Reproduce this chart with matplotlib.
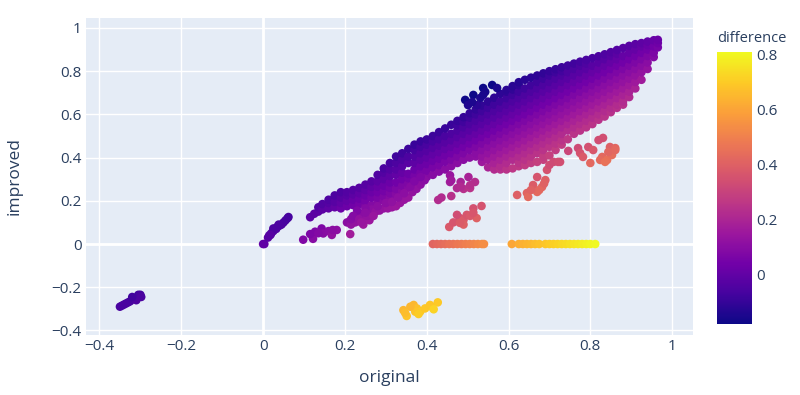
import numpy as np
import matplotlib
matplotlib.use("Agg")
import matplotlib.pyplot as plt
from matplotlib.colors import LinearSegmentedColormap

# main body (original: improved values)
main_x = [.40, .415, .43, .445, .46, .475, .49, .505, .52, .535, .55, .565, .58, .595, .61, .625, .64, .655, .67, .685,
          .70, .715, .73, .745, .76, .775, .79, .805, .82, .835, .85, .865, .88, .895, .91, .925, .94, .955, .965]
main_y = [
    [.31, .34, .37, .40, .43, .46, .484],
    [.32, .355, .385, .415, .445, .475, .50],
    [.335, .365, .395, .425, .455, .485, .518],
    [.345, .38, .41, .44, .47, .50, .535],
    [.36, .39, .42, .45, .48, .51, .552],
    [.375, .405, .435, .465, .495, .525, .55, .57],
    [.39, .42, .45, .48, .51, .54, .565, .587],
    [.40, .435, .465, .495, .525, .555, .585, .605],
    [.405, .42, .45, .48, .51, .54, .57, .60, .623],
    [.38, .405, .435, .465, .495, .525, .555, .585, .615, .641],
    [.355, .39, .42, .45, .48, .51, .54, .57, .60, .63, .659],
    [.345, .375, .405, .435, .465, .495, .525, .555, .585, .615, .645, .677],
    [.345, .36, .39, .42, .45, .48, .51, .54, .57, .60, .63, .66, .695],
    [.345, .375, .405, .435, .465, .495, .525, .555, .585, .615, .645, .675, .705, .713],
    [.35, .39, .42, .45, .48, .51, .54, .57, .60, .63, .66, .69, .715, .731],
    [.36, .375, .405, .435, .465, .495, .525, .555, .585, .615, .645, .675, .705, .735, .749],
    [.365, .39, .42, .45, .48, .51, .54, .57, .60, .63, .66, .69, .72, .76],
    [.375, .405, .435, .465, .495, .525, .555, .585, .615, .645, .675, .705, .735, .77],
    [.38, .42, .45, .48, .51, .54, .57, .60, .63, .66, .69, .72, .75, .78],
    [.39, .405, .435, .465, .495, .525, .555, .585, .615, .645, .675, .705, .735, .765, .79],
    [.41, .45, .48, .51, .54, .57, .60, .63, .66, .69, .72, .75, .78, .80],
    [.435, .465, .495, .525, .555, .585, .615, .645, .675, .705, .735, .765, .795, .809],
    [.46, .48, .51, .54, .57, .60, .63, .66, .69, .72, .75, .78, .80, .818],
    [.485, .525, .555, .585, .615, .645, .675, .705, .735, .765, .795, .826],
    [.51, .54, .57, .60, .63, .66, .69, .72, .75, .78, .81, .835],
    [.525, .555, .585, .615, .645, .675, .705, .735, .765, .795, .825, .844],
    [.54, .57, .60, .63, .66, .69, .72, .75, .78, .81, .835, .852],
    [.555, .585, .615, .645, .675, .705, .735, .765, .795, .825, .86],
    [.575, .60, .63, .66, .69, .72, .75, .78, .81, .84, .869],
    [.59, .615, .645, .675, .705, .735, .765, .795, .825, .855, .878],
    [.61, .63, .66, .69, .72, .75, .78, .81, .84, .87, .888],
    [.63, .645, .675, .705, .735, .765, .795, .825, .855, .88, .898],
    [.645, .66, .69, .72, .75, .78, .81, .84, .87, .907],
    [.68, .705, .735, .765, .795, .825, .855, .885, .917],
    [.72, .75, .78, .81, .84, .87, .90, .925],
    [.76, .795, .825, .855, .885, .915, .93],
    [.81, .84, .87, .90, .92, .937],
    [.865, .885, .915, .943],
    [.91, .93, .945],
]

# upper left strip running into the main body
strip_x = [.115, .125, .135, .145, .16, .175, .19, .205, .22, .235, .25, .265, .28, .295, .31, .325, .34, .355, .37, .385]
strip_y = [
    [.124],
    [.14],
    [.15, .17],
    [.16, .185],
    [.165, .19, .205],
    [.17, .195, .225],
    [.165, .19, .215, .24],
    [.175, .20, .225, .24],
    [.18, .205, .23, .25],
    [.185, .21, .235, .26],
    [.175, .20, .225, .25, .275],
    [.18, .215, .24, .265, .29],
    [.195, .215, .24, .265, .29, .32],
    [.20, .22, .245, .27, .30, .33, .35],
    [.215, .235, .26, .285, .315, .345, .375],
    [.23, .255, .285, .32, .345, .375, .405],
    [.245, .27, .30, .33, .36, .39, .42],
    [.26, .28, .305, .325, .375, .405, .44],
    [.27, .295, .315, .345, .375, .405, .435, .46],
    [.29, .31, .33, .36, .39, .42, .45, .475],
]

wing_x = [.205, .215, .225, .23, .245, .25, .24, .26, .262, .265, .255, .275, .285, .295, .305, .315, .325, .335, .345,
          .355, .365, .375, .385, .395, .28, .30, .315, .33, .345, .36, .37, .385, .215, .23, .25,
          .22, .235, .24, .255, .27, .25]
wing_y = [.10, .09, .10, .13, .09, .115, .14, .11, .135, .16, .15, .15, .155, .165, .165, .17, .175, .19, .205,
          .215, .24, .255, .275, .295, .175, .19, .195, .215, .235, .265, .29, .31, .115, .155, .165,
          .13, .115, .10, .13, .13, .145]

navy_x = [.494, .514, .538, .56, .572, .501, .523, .531, .543, .511, .538]
navy_y = [.667, .69, .722, .736, .722, .643, .643, .676, .704, .657, .69]

lobe_x = [.831, .82, .848, .861, .795, .807, .77, .775, .782, .746, .726, .80, .829, .841, .824, .853, .844, .861, .836]
lobe_y = [.491, .481, .449, .444, .449, .435, .444, .421, .403, .431, .38, .375, .403, .389, .389, .412, .426, .435, .38]

branch_x = [.67, .694, .69, .66, .682, .67, .645, .621, .648, .687, .70, .71, .721, .675, .655]
branch_y = [.31, .343, .296, .273, .264, .241, .236, .227, .218, .28, .366, .38, .38, .25, .25]

blob_x = [.457, .474, .49, .506, .518, .502, .483, .457, .506, .483, .46]
blob_y = [.287, .259, .255, .259, .287, .31, .287, .318, .272, .265, .295]

spot_x = [.428, .436, .46]
spot_y = [.204, .215, .222]

mid_x = [.455, .465, .481, .474, .49, .498, .514, .534, .522, .49, .506, .514, .481]
mid_y = [.079, .10, .12, .135, .112, .135, .165, .176, .12, .09, .13, .145, .098]

origin_x = [0, .003, .012, .015, .02, .025, .028, .032, .035, .04, .045, .05, .055, .06, .062, .025, .038, .018]
origin_y = [0, 0, .03, .04, .05, .06, .07, .07, .08, .085, .09, .10, .11, .12, .125, .072, .09, .042]

low_x = [.098, .122, .115, .127, .143, .147, .16, .168, .18, .17, .213, .135]
low_y = [.02, .024, .046, .057, .072, .049, .06, .042, .065, .065, .046, .05]

zero_x = [.415, .425, .435, .445, .455, .465, .475, .485, .495, .505, .515, .525, .535, .54, .608,
          .625, .635, .645, .655, .665, .675, .69, .70, .71, .72, .73, .74, .75, .76, .77, .78, .79, .80, .812]
zero_y = [0] * len(zero_x)

bottom_x = [.343, .351, .368, .376, .384, .372, .396, .412, .427, .408, .36, .38, .417, .347]
bottom_y = [-.306, -.333, -.282, -.298, -.313, -.313, -.298, -.29, -.27, -.282, -.29, -.324, -.302, -.318]

neg_x = [-.35, -.345, -.34, -.335, -.33, -.325, -.32, -.315, -.31, -.305, -.30, -.298, -.31, -.32]
neg_y = [-.29, -.285, -.28, -.275, -.27, -.265, -.255, -.25, -.25, -.235, -.235, -.245, -.26, -.245]

x_ticks = [-0.4, -0.2, 0, 0.2, 0.4, 0.6, 0.8, 1]
x_labels = ["\u22120.4", "\u22120.2", "0", "0.2", "0.4", "0.6", "0.8", "1"]
y_ticks = [-0.4, -0.2, 0, 0.2, 0.4, 0.6, 0.8, 1]
y_labels = ["\u22120.4", "\u22120.2", "0", "0.2", "0.4", "0.6", "0.8", "1"]
cbar_ticks = [0, 0.2, 0.4, 0.6, 0.8]
cbar_labels = ["0", "0.2", "0.4", "0.6", "0.8"]
plasma = ["#0d0887", "#46039f", "#7201a8", "#9c179e", "#bd3786", "#d8576b", "#ed7953", "#fb9f3a", "#fdca26", "#f0f921"]

TEXT = "#2a3f5f"
plt.rcParams["font.family"] = ["Open Sans", "DejaVu Sans"]

original = []
improved = []
for cx, cy in list(zip(strip_x, strip_y)) + list(zip(main_x, main_y)):
    original += [cx] * len(cy)
    improved += cy
for xs, ys in [(wing_x, wing_y), (navy_x, navy_y), (lobe_x, lobe_y), (branch_x, branch_y), (blob_x, blob_y),
               (spot_x, spot_y), (mid_x, mid_y), (origin_x, origin_y), (low_x, low_y), (zero_x, zero_y),
               (bottom_x, bottom_y), (neg_x, neg_y)]:
    original += xs
    improved += ys
original = np.array(original)
improved = np.array(improved)
difference = original - improved

W, H = 800, 395
fig = plt.figure(figsize=(W / 100, H / 100), dpi=100)
ax = fig.add_axes([86 / W, 1 - 335 / H, (693 - 86) / W, (335 - 18) / H], facecolor="#e5ecf6")
cmap = LinearSegmentedColormap.from_list("plotly_plasma", plasma)

sc = ax.scatter(original, improved, c=difference, cmap=cmap, vmin=-0.178, vmax=0.81, s=38, linewidths=0, zorder=3)

ax.set_xlim(-0.433, 1.051)
ax.set_ylim(-0.421, 1.046)
ax.set_xticks(x_ticks)
ax.set_xticklabels(x_labels)
ax.set_yticks(y_ticks)
ax.set_yticklabels(y_labels)
ax.tick_params(length=0, labelsize=11, labelcolor=TEXT, pad=3)
ax.grid(color="white", linewidth=1, zorder=1)
ax.axhline(0, color="white", linewidth=2, zorder=2)
ax.axvline(0, color="white", linewidth=2, zorder=2)
for s in ax.spines.values():
    s.set_visible(False)

fig.text(389 / W, 1 - 378 / H, "original", color=TEXT, fontsize=12.5, ha="center", va="center")
fig.text(15 / W, 1 - 176 / H, "improved", color=TEXT, fontsize=12.5, ha="center", va="center", rotation=90)

cax = fig.add_axes([717 / W, 1 - 324 / H, 35 / W, (324 - 52) / H])
cb = fig.colorbar(sc, cax=cax)
cb.set_ticks(cbar_ticks)
cb.set_ticklabels(cbar_labels)
cb.ax.tick_params(length=0, labelsize=11, labelcolor=TEXT, pad=3)
cb.outline.set_visible(False)
fig.text(717 / W, 1 - 38 / H, "difference", color=TEXT, fontsize=10.5, ha="left", va="center")

fig.savefig("out.png", dpi=100)
